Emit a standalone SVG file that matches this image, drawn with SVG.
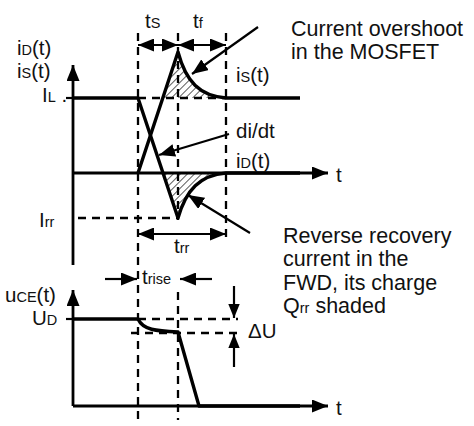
<svg xmlns="http://www.w3.org/2000/svg" width="474" height="426" viewBox="0 0 474 426">
<style>
text{font-family:"Liberation Sans",Arial,sans-serif;fill:#111}
.lbl{font-size:20.5px}
.big{font-size:21.5px}
.sub{font-size:14.5px}
.ax{stroke:#000;stroke-width:2.8;fill:none}
.cur{stroke:#000;stroke-width:3.4;fill:none;stroke-linejoin:round}
.dash{stroke:#000;stroke-width:2.3;stroke-dasharray:8,6;fill:none}
.thin{stroke:#000;stroke-width:2.2;fill:none}
</style>
<defs>
<marker id="ah" viewBox="0 0 16 13" refX="16" refY="6.5" markerWidth="16" markerHeight="13" markerUnits="userSpaceOnUse" orient="auto-start-reverse">
<path d="M0,0 L16,6.5 L0,13 Z" fill="#000"/>
</marker>
<marker id="ahs" viewBox="0 0 16 13" refX="16" refY="6.5" markerWidth="14" markerHeight="12" markerUnits="userSpaceOnUse" orient="auto-start-reverse">
<path d="M0,0 L16,6.5 L0,13 Z" fill="#000"/>
</marker>
<pattern id="hatch" width="5" height="5" patternUnits="userSpaceOnUse" patternTransform="rotate(45)">
<line x1="0" y1="0" x2="0" y2="5" stroke="#333" stroke-width="1.6"/>
</pattern>
</defs>

<g id="shading">
<path d="M163,98 L178,52 C186,82 200,96 226,98 Z" fill="url(#hatch)"/>
<path d="M163,173 L178,218 C186,190 200,175 226,173 Z" fill="url(#hatch)"/>
</g>

<g id="guides">
<line class="dash" x1="138" y1="33" x2="138" y2="420"/>
<line class="dash" x1="178" y1="33" x2="178" y2="220"/>
<line class="dash" x1="178" y1="292" x2="178" y2="420"/>
<line class="dash" x1="226" y1="33" x2="226" y2="238"/>
<line class="dash" x1="138" y1="98" x2="226" y2="98"/>
<line class="dash" x1="78" y1="218" x2="178" y2="218"/>
<line class="dash" x1="138" y1="319" x2="238" y2="319"/>
<line class="dash" x1="131" y1="333" x2="238" y2="333"/>
</g>

<g id="axes">
<line class="ax" x1="73" y1="265" x2="73" y2="65" marker-end="url(#ah)"/>
<line class="ax" x1="73" y1="173" x2="328" y2="173" marker-end="url(#ah)"/>
<line class="ax" x1="73" y1="406" x2="73" y2="290" marker-end="url(#ah)"/>
<line class="ax" x1="73" y1="406" x2="328" y2="406" marker-end="url(#ah)"/>
<line class="thin" x1="66" y1="98" x2="73" y2="98"/>
<line class="thin" x1="66" y1="319" x2="73" y2="319"/>
</g>

<g id="curves">
<path id="is" class="cur" d="M138,173 L178,52 C186,82 200,96 226,98 L300,98"/>
<path id="iD" class="cur" d="M73,98 L138,98 L178,218 C186,190 200,175 226,173 L300,173"/>
<path id="uce" class="cur" d="M73,319 L138,319 C143,330 156,331 178,332 L199,406 L300,406"/>
</g>

<g id="connectors">
<line class="thin" x1="138" y1="45" x2="178" y2="45" marker-start="url(#ah)" marker-end="url(#ah)"/>
<line class="thin" x1="178" y1="45" x2="226" y2="45" marker-start="url(#ah)" marker-end="url(#ah)"/>
<line class="thin" x1="138" y1="234" x2="226" y2="234" marker-start="url(#ah)" marker-end="url(#ah)"/>
<line class="thin" x1="105" y1="279" x2="137" y2="279" marker-end="url(#ah)"/>
<line class="thin" x1="212" y1="279" x2="180" y2="279" marker-end="url(#ah)"/>
<line class="thin" x1="234" y1="286" x2="234" y2="318" marker-end="url(#ahs)"/>
<line class="thin" x1="234" y1="367" x2="234" y2="334" marker-end="url(#ahs)"/>
<line class="thin" x1="258" y1="27" x2="192" y2="74" marker-end="url(#ah)"/>
<line class="thin" x1="229" y1="134" x2="159" y2="155" marker-end="url(#ah)"/>
<line class="thin" x1="250" y1="233" x2="188" y2="195" marker-end="url(#ah)"/>
</g>

<g id="labels">
<text class="lbl" x="17" y="55">i<tspan class="sub">D</tspan>(t)</text>
<text class="lbl" x="17" y="78">i<tspan class="sub">S</tspan>(t)</text>
<text class="lbl" x="42" y="102">I<tspan class="sub">L</tspan> .</text>
<text class="lbl" x="39" y="227">I<tspan class="sub">rr</tspan></text>
<text class="lbl" x="145" y="28">t<tspan class="sub">S</tspan></text>
<text class="lbl" x="193" y="28">t<tspan class="sub">f</tspan></text>
<text class="lbl" x="236" y="82">i<tspan class="sub">S</tspan>(t)</text>
<text class="lbl" x="236" y="138">di/dt</text>
<text class="lbl" x="236" y="168">i<tspan class="sub">D</tspan>(t)</text>
<text class="lbl" x="336" y="182">t</text>
<text class="lbl" x="174" y="253">t<tspan class="sub">rr</tspan></text>
<text class="lbl" x="142" y="284">t<tspan class="sub">rise</tspan></text>
<text class="lbl" x="5" y="302">u<tspan class="sub">CE</tspan>(t)</text>
<text class="lbl" x="32" y="325">U<tspan class="sub">D</tspan></text>
<text class="lbl" x="248" y="338">ΔU</text>
<text class="lbl" x="336" y="415">t</text>
<text class="big" x="291" y="36">Current overshoot</text>
<text class="big" x="291" y="59">in the MOSFET</text>
<text class="big" x="283" y="243">Reverse recovery</text>
<text class="big" x="283" y="266">current in the</text>
<text class="big" x="283" y="290">FWD, its charge</text>
<text class="big" x="283" y="313">Q<tspan class="sub">rr</tspan> shaded</text>
</g>
</svg>
